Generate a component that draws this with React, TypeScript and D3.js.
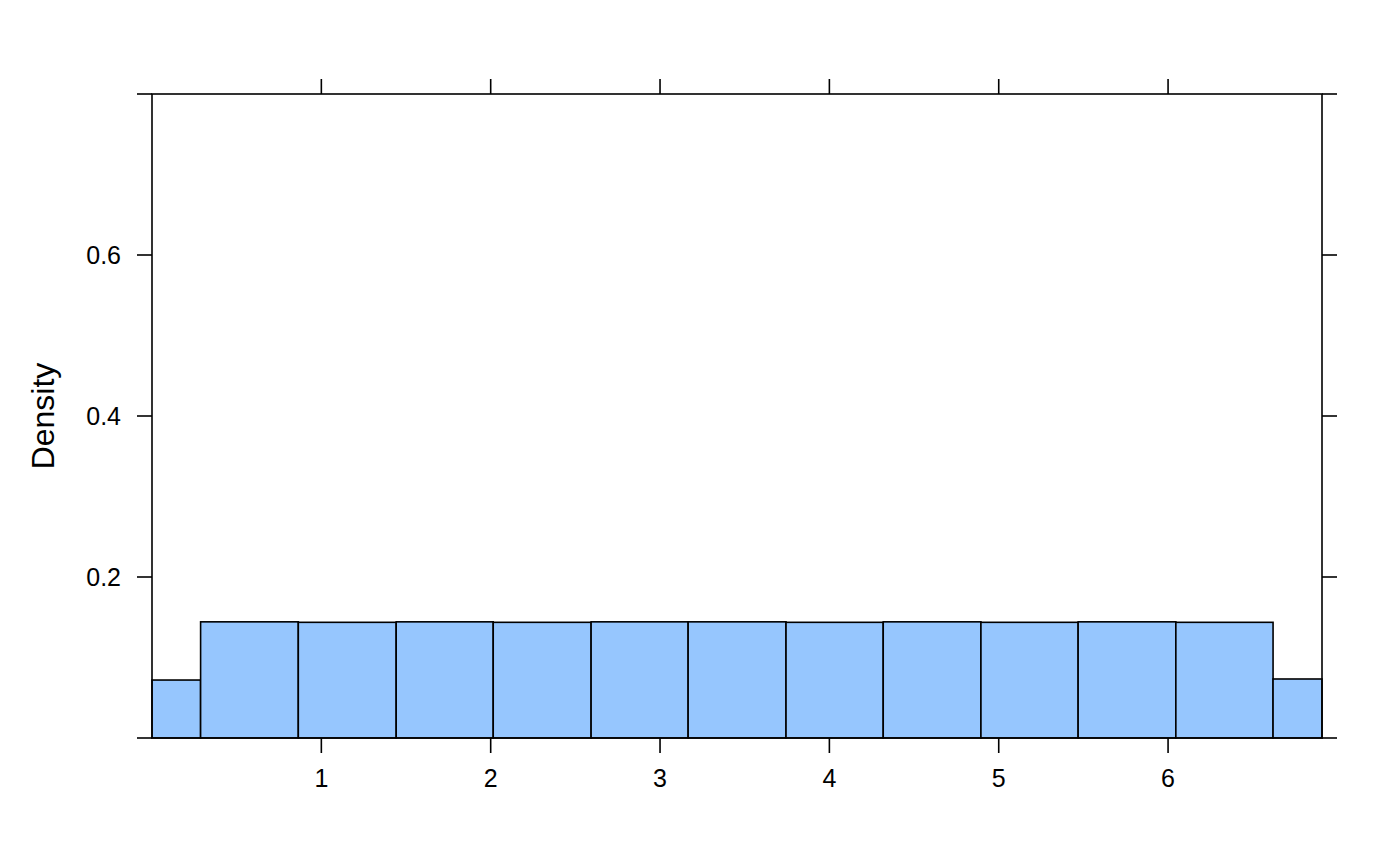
import * as d3 from "d3";
import { useEffect } from "react";

// histogram bin edges and densities
const breaks = [0, 0.287, 0.864, 1.442, 2.015, 2.593, 3.166, 3.744, 4.318, 4.895, 5.469, 6.046, 6.62, 6.909];
const density = [0.072, 0.1443, 0.1437, 0.1443, 0.1437, 0.1443, 0.1443, 0.1437, 0.1443, 0.1437, 0.1443, 0.1437, 0.0733];
const xTicks = [1, 2, 3, 4, 5, 6];
const yTicks = [0, 0.2, 0.4, 0.6, 0.8];
const yLabelled = [0.2, 0.4, 0.6];
const yTitle = "Density";

const W = 1400;
const H = 866;
const panel = { left: 152, right: 1322, top: 94, bottom: 738 };
const font = "'Liberation Sans', Arial, Helvetica, sans-serif";

export default function App() {
  useEffect(() => {
    document.body.style.margin = "0";
  }, []);

  const x = d3.scaleLinear().domain([breaks[0], breaks[breaks.length - 1]]).range([panel.left, panel.right]);
  const y = d3.scaleLinear().domain([0, 0.8]).range([panel.bottom, panel.top]);
  const bins = density.map((d, i) => ({ x0: breaks[i], x1: breaks[i + 1], d }));
  const tck = 15;

  return (
    <svg width={W} height={H} style={{ display: "block", background: "#fff" }} fontFamily={font}>
      {bins.map((b, i) => (
        <rect
          key={i}
          x={x(b.x0)}
          y={y(b.d)}
          width={x(b.x1) - x(b.x0)}
          height={y(0) - y(b.d)}
          fill="#96C6FE"
          stroke="#000"
          strokeWidth={1.6}
        />
      ))}
      <rect
        x={panel.left}
        y={panel.top}
        width={panel.right - panel.left}
        height={panel.bottom - panel.top}
        fill="none"
        stroke="#000"
        strokeWidth={1.6}
      />
      {xTicks.map((t) => (
        <g key={"x" + t} stroke="#000" strokeWidth={1.6}>
          <line x1={x(t)} x2={x(t)} y1={panel.bottom} y2={panel.bottom + tck} />
          <line x1={x(t)} x2={x(t)} y1={panel.top} y2={panel.top - tck} />
        </g>
      ))}
      {xTicks.map((t) => (
        <text key={"xl" + t} x={x(t)} y={787} textAnchor="middle" fontSize={25}>
          {t}
        </text>
      ))}
      {yTicks.map((t) => (
        <g key={"y" + t} stroke="#000" strokeWidth={1.6}>
          <line x1={panel.left} x2={panel.left - tck} y1={y(t)} y2={y(t)} />
          <line x1={panel.right} x2={panel.right + tck} y1={y(t)} y2={y(t)} />
        </g>
      ))}
      {yLabelled.map((t) => (
        <text key={"yl" + t} x={121} y={y(t)} dy="0.36em" textAnchor="end" fontSize={25}>
          {d3.format(".1f")(t)}
        </text>
      ))}
      <text
        transform={`translate(54,${(panel.top + panel.bottom) / 2}) rotate(-90)`}
        textAnchor="middle"
        fontSize={32}
      >
        {yTitle}
      </text>
    </svg>
  );
}
